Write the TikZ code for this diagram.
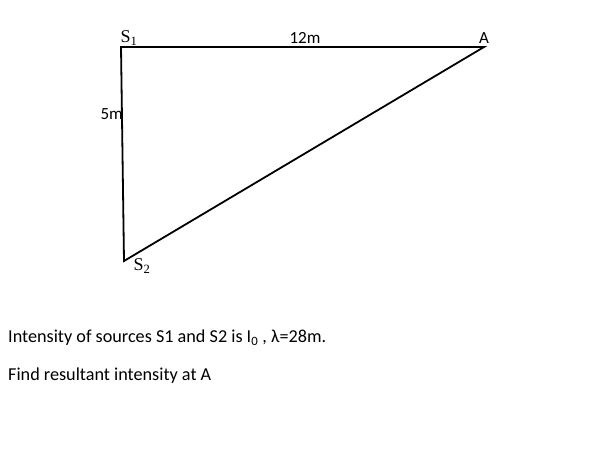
\documentclass[tikz,border=0pt]{standalone}
\usepackage{fontspec}
\setmainfont{Carlito}
\newfontfamily\labelfont{Liberation Serif}
\usetikzlibrary{positioning}
\begin{document}
\begin{tikzpicture}[
    x=1pt,y=-1pt,
    side/.style={line width=1.8pt,line join=miter},
    lbl/.style={font=\fontsize{17}{19}\selectfont,inner sep=0pt},
    pt/.style={font=\labelfont\fontsize{18}{20}\selectfont,inner sep=0pt},
    txt/.style={font=\fontsize{18.2}{21}\selectfont,inner sep=0pt,anchor=west}
]
    \useasboundingbox (0,0) rectangle (610,456);

    % Corners of the triangle
    \coordinate (S1) at (121,47);
    \coordinate (A) at (484,47);
    \coordinate (S2) at (124,261);

    % Sides
    \draw[side] (S1) -- (A) -- (S2) -- cycle;

    % Corner and side labels
    \node[pt] (s1lbl) at (129,38) {S\textsubscript{1}};
    \node[pt] (s2lbl) at (142,266) {S\textsubscript{2}};
    \node[lbl] (albl) at (484,38) {A};
    \node[lbl] (toplbl) at (305,38) {12m};
    \node[lbl,anchor=east] (leftlbl) at (123,114) {5m};

    % Question text
    \node[txt] (line1) at (8,338) {Intensity of sources S1 and S2 is I\textsubscript{0} , λ=28m.};
    \node[txt] (line2) at (8,376) {Find resultant intensity at A};
\end{tikzpicture}
\end{document}
